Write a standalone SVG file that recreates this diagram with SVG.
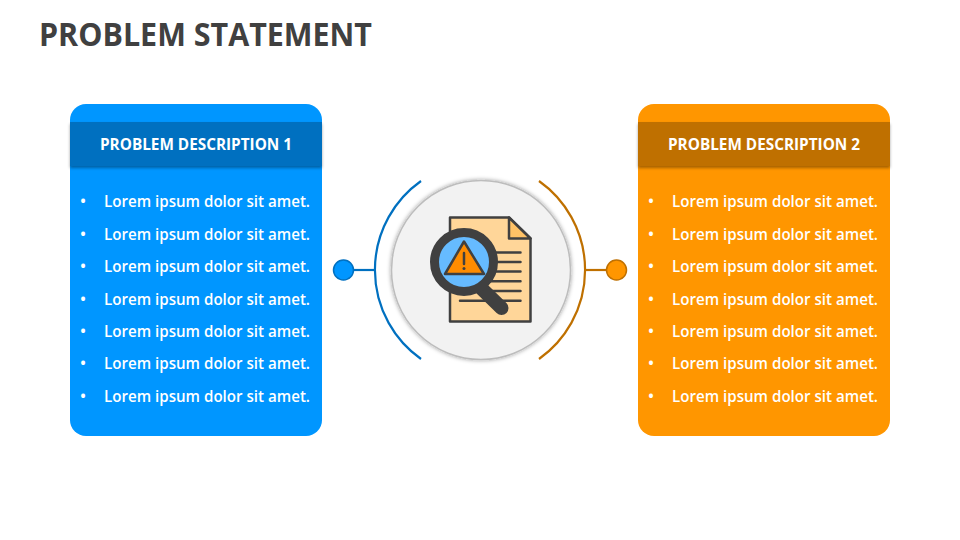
<svg xmlns="http://www.w3.org/2000/svg" width="960" height="540" viewBox="0 0 960 540">
<defs>
<style>
text{font-family:"Open Sans","Noto Sans","Liberation Sans",sans-serif}
.title{font-size:31.500px;font-weight:700;fill:#404040}
.head{font-size:16px;font-weight:700;fill:#fff}
.item{font-size:16px;font-weight:600;fill:#fff}
.ln{fill:none;stroke:#404040;stroke-width:2.500;stroke-linecap:round}
</style>
<filter id="sh" x="-10%" y="-20%" width="120%" height="150%"><feDropShadow dx="0" dy="2" stdDeviation="1.500" flood-color="#000" flood-opacity=".35"/></filter>
<filter id="ring" x="-10%" y="-10%" width="120%" height="120%"><feDropShadow dx="0" dy="0" stdDeviation="2" flood-color="#000" flood-opacity=".4"/></filter>
</defs>
<rect width="960" height="540" fill="#fff"/>
<text class="title" x="39" y="46" textLength="333" lengthAdjust="spacingAndGlyphs">PROBLEM STATEMENT</text>
<g id="connectors" fill="none" stroke-width="2.200">
<path d="M421 181A109 109 0 0 0 421 359" stroke="#0070c0"/>
<path d="M539 181A109 109 0 0 1 539 359" stroke="#bf7000"/>
<path d="M354 270H375" stroke="#0070c0"/>
<path d="M585 270H606" stroke="#bf7000"/>
</g>
<g id="panel-1">
<rect x="70" y="104" width="252" height="332" rx="16" fill="#0096ff"/>
<rect x="70" y="122" width="252" height="44" fill="#0070c0" filter="url(#sh)"/>
<text class="head" x="100" y="149.500" textLength="192" lengthAdjust="spacingAndGlyphs">PROBLEM DESCRIPTION 1</text>
<g>
<text class="item" x="80" y="207">•</text><text class="item" x="104" y="207" textLength="206" lengthAdjust="spacingAndGlyphs">Lorem ipsum dolor sit amet.</text>
<text class="item" x="80" y="240">•</text><text class="item" x="104" y="240" textLength="206" lengthAdjust="spacingAndGlyphs">Lorem ipsum dolor sit amet.</text>
<text class="item" x="80" y="272">•</text><text class="item" x="104" y="272" textLength="206" lengthAdjust="spacingAndGlyphs">Lorem ipsum dolor sit amet.</text>
<text class="item" x="80" y="305">•</text><text class="item" x="104" y="305" textLength="206" lengthAdjust="spacingAndGlyphs">Lorem ipsum dolor sit amet.</text>
<text class="item" x="80" y="337">•</text><text class="item" x="104" y="337" textLength="206" lengthAdjust="spacingAndGlyphs">Lorem ipsum dolor sit amet.</text>
<text class="item" x="80" y="369">•</text><text class="item" x="104" y="369" textLength="206" lengthAdjust="spacingAndGlyphs">Lorem ipsum dolor sit amet.</text>
<text class="item" x="80" y="402">•</text><text class="item" x="104" y="402" textLength="206" lengthAdjust="spacingAndGlyphs">Lorem ipsum dolor sit amet.</text>
</g>
</g>
<g id="panel-2">
<rect x="638" y="104" width="252" height="332" rx="16" fill="#ff9600"/>
<rect x="638" y="122" width="252" height="44" fill="#bf7000" filter="url(#sh)"/>
<text class="head" x="668" y="149.500" textLength="192" lengthAdjust="spacingAndGlyphs">PROBLEM DESCRIPTION 2</text>
<g>
<text class="item" x="648" y="207">•</text><text class="item" x="672" y="207" textLength="206" lengthAdjust="spacingAndGlyphs">Lorem ipsum dolor sit amet.</text>
<text class="item" x="648" y="240">•</text><text class="item" x="672" y="240" textLength="206" lengthAdjust="spacingAndGlyphs">Lorem ipsum dolor sit amet.</text>
<text class="item" x="648" y="272">•</text><text class="item" x="672" y="272" textLength="206" lengthAdjust="spacingAndGlyphs">Lorem ipsum dolor sit amet.</text>
<text class="item" x="648" y="305">•</text><text class="item" x="672" y="305" textLength="206" lengthAdjust="spacingAndGlyphs">Lorem ipsum dolor sit amet.</text>
<text class="item" x="648" y="337">•</text><text class="item" x="672" y="337" textLength="206" lengthAdjust="spacingAndGlyphs">Lorem ipsum dolor sit amet.</text>
<text class="item" x="648" y="369">•</text><text class="item" x="672" y="369" textLength="206" lengthAdjust="spacingAndGlyphs">Lorem ipsum dolor sit amet.</text>
<text class="item" x="648" y="402">•</text><text class="item" x="672" y="402" textLength="206" lengthAdjust="spacingAndGlyphs">Lorem ipsum dolor sit amet.</text>
</g>
</g>
<g id="dot-1"><circle cx="343.500" cy="270" r="10" fill="#0096ff" stroke="#0070c0" stroke-width="1.500"/></g>
<g id="dot-2"><circle cx="616.500" cy="270" r="10" fill="#ff9600" stroke="#bf7000" stroke-width="1.500"/></g>
<g id="center">
<circle cx="481" cy="270" r="89.500" fill="#f2f2f2" stroke="#bdbdbd" stroke-width="1.500" filter="url(#ring)"/>
<path d="M450 217.500H509L530.500 238.500V321.500H450Z" fill="#ffd699" stroke="#404040" stroke-width="2.500" stroke-linejoin="round"/>
<path d="M509 217.500L530.500 238.500H509Z" fill="#ffc266" stroke="#404040" stroke-width="2.500" stroke-linejoin="round"/>
<path class="ln" d="M490 252.500H520.500M490 262H520.500M490 271.500H520.500M490 281.300H520.500M480 291H520.500M460 300.700H520.500"/>
<path d="M482 289L501.500 308" fill="none" stroke="#404040" stroke-width="14" stroke-linecap="round"/>
<circle cx="464" cy="262" r="29.500" fill="#66bbff" stroke="#404040" stroke-width="9"/>
<path d="M464 241.500L484 274H445Z" fill="#ff8c00" stroke="#404040" stroke-width="2.500" stroke-linejoin="round"/>
<path d="M464 253V264" stroke="#404040" stroke-width="2.500" stroke-linecap="round" fill="none"/>
<circle cx="464" cy="268.500" r="1.500" fill="#404040"/>
</g>
</svg>
